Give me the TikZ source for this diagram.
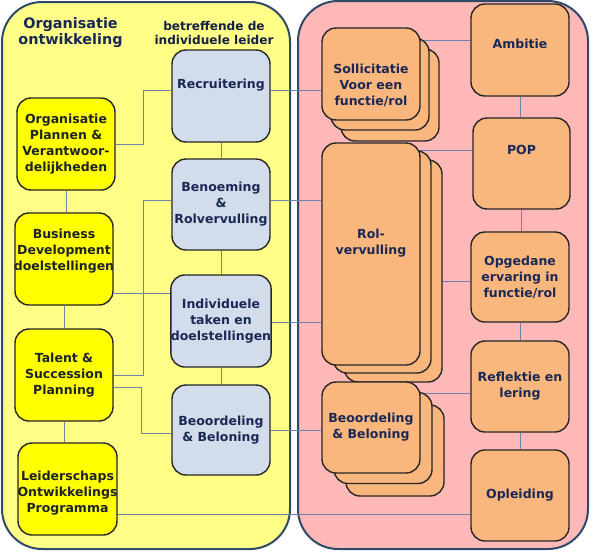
\documentclass[tikz,border=0pt]{standalone}
\usepackage{fontspec}
\setmainfont{DejaVu Sans}
\usetikzlibrary{calc}
\definecolor{panelY}{HTML}{FFFF88}
\definecolor{panelP}{HTML}{FFB8B8}
\definecolor{panelB}{HTML}{2F4A68}
\definecolor{nodeY}{HTML}{FFFF00}
\definecolor{nodeB}{HTML}{D3DCEA}
\definecolor{nodeO}{HTML}{FAB77D}
\definecolor{lineC}{HTML}{6F84AC}
\definecolor{navy}{HTML}{1A2856}
\definecolor{darkT}{HTML}{1E2328}
\pgfdeclarelayer{panels}
\pgfdeclarelayer{lines}
\pgfsetlayers{panels,lines,main}
\tikzset{
  panel/.style={draw=panelB, line width=2pt, rounded corners=40pt},
  box/.style={draw=black!85, line width=1.4pt, rounded corners=14pt, minimum width=98pt, minimum height=92pt, inner sep=0pt, align=center, font=\bfseries\fontsize{12.5}{16}\selectfont},
  ybox/.style={box, fill=nodeY, text=darkT},
  bbox/.style={box, fill=nodeB, text=navy},
  obox/.style={box, fill=nodeO, text=navy},
  txt/.style={inner sep=0pt, align=center, font=\bfseries\fontsize{12.5}{16}\selectfont},
  conn/.style={draw=lineC, line width=1pt},
}
\begin{document}
\begin{tikzpicture}[x=1pt, y=-1pt]
\useasboundingbox (0,0) rectangle (592,552);
\begin{pgfonlayer}{panels}
\draw[panel, fill=panelY] (2,2) rectangle (290,549);
\draw[panel, fill=panelP] (298,1) rectangle (588,549);
\end{pgfonlayer}
% titles
\node[inner sep=0pt, align=center, text=navy, font=\bfseries\fontsize{14.4}{16}\selectfont] (title) at (70.5,32.5) {Organisatie\\ontwikkeling};
\node[inner sep=0pt, align=center, text=navy!80!black, font=\bfseries\fontsize{12.1}{14}\selectfont] (subtitle) at (214,33) {betreffende de\\individuele leider};
% yellow nodes
\node[ybox] (org) at (66,144) {Organisatie\\ Plannen \&\\Verantwoor-\\delijkheden};
\node[ybox] (bus) at (64,259) {};
\node[txt, text=darkT] (bust) at (64,251) {Business\\Development\\doelstellingen};
\node[ybox] (tal) at (64,375) {Talent \&\\Succession\\Planning};
\node[ybox, minimum width=99pt] (lei) at (67.5,489) {};
\node[txt, text=darkT] (leit) at (67.5,493) {Leiderschaps\\Ontwikkelings\\Programma};
% blue nodes
\node[bbox] (rec) at (221,96) {};
\node[txt, text=navy] (rect) at (221,85) {Recruitering};
\node[bbox, minimum height=91pt] (ben) at (221,204.5) {Benoeming\\\&\\Rolvervulling};
\node[bbox] (ind) at (221,321) {Individuele\\taken en\\doelstellingen};
\node[bbox, minimum height=90pt] (beo) at (221,430) {Beoordeling\\\& Beloning};
% orange right column
\node[obox] (amb) at (520,50) {};
\node[txt, text=navy] (ambt) at (520,44) {Ambitie};
\node[obox, minimum width=97pt, minimum height=91pt] (pop) at (521.5,163.5) {};
\node[txt, text=navy] (popt) at (521.5,150) {POP};
\node[obox, minimum height=90pt] (opg) at (520,277) {Opgedane\\ervaring in\\functie/rol};
\node[obox, minimum height=91pt] (ref) at (520,386.5) {Reflektie en\\lering};
\node[obox, minimum height=91pt] (opl) at (520,495.5) {Opleiding};
% stacked nodes
\node[obox] (sol3) at (390,95) {};
\node[obox] (sol2) at (380,84) {};
\node[obox] (sol) at (371,74) {};
\node[txt, text=navy] (solt) at (371,85) {Sollicitatie\\Voor een\\functie/rol};
\node[obox, minimum height=222pt] (rol3) at (393,271) {};
\node[obox, minimum height=222pt] (rol2) at (382,262) {};
\node[obox, minimum height=222pt] (rol) at (371,254) {};
\node[txt, text=navy] (rolt) at (371,243) {Rol-\\vervulling};
\node[obox, minimum height=91pt] (bel3) at (395,450.5) {};
\node[obox, minimum height=91pt] (bel2) at (383,438) {};
\node[obox, minimum height=91pt] (bel) at (371,427.5) {Beoordeling\\\& Beloning};
% connectors
\begin{pgfonlayer}{lines}
\draw[conn] (org.south) -- (org.south |- bus.north);
\draw[conn] (bus.south) -- (bus.south |- tal.north);
\draw[conn] (tal.south) -- (tal.south |- lei.north);
\draw[conn] (org.east) -| (143,90) -- ([yshift=6pt]rec.west);
\draw[conn] ([yshift=6pt]rec.east) -- ([yshift=6pt]rec.east -| sol.west);
\draw[conn] (rec.south) -- (ben.north);
\draw[conn] (ben.south) -- (ind.north);
\draw[conn] (ind.south) -- (beo.north);
\draw[conn] ([yshift=4pt]ben.west) -| (143,375) -- (tal.east);
\draw[conn] ([yshift=4pt]ben.east) -- ([yshift=4pt]ben.east -| rol.west);
\draw[conn] (bus.east |- 0,293) -- (ind.west |- 0,293);
\draw[conn] (ind.east |- 0,322) -- (rol.west |- 0,322);
\draw[conn] (tal.east |- 0,387) -| (141,433) -- (beo.west |- 0,433);
\draw[conn] (beo.east) -- (beo.east -| bel.west);
\draw[conn] (lei.east |- 0,514) -- (opl.west |- 0,514);
\draw[conn] (amb.south) -- (amb.south |- pop.north);
\draw[conn] (pop.south) -- (pop.south |- opg.north);
\draw[conn] (opg.south) -- (opg.south |- ref.north);
\draw[conn] (ref.south) -- (ref.south |- opl.north);
\draw[conn] (amb.west |- 0,40) -- (sol2.center |- 0,40);
\draw[conn] (pop.west |- 0,150) -- (rol2.center |- 0,150);
\draw[conn] (opg.west |- 0,281) -- (rol3.center |- 0,281);
\draw[conn] (ref.west |- 0,393) -- (bel2.center |- 0,393);
\end{pgfonlayer}
\end{tikzpicture}
\end{document}
